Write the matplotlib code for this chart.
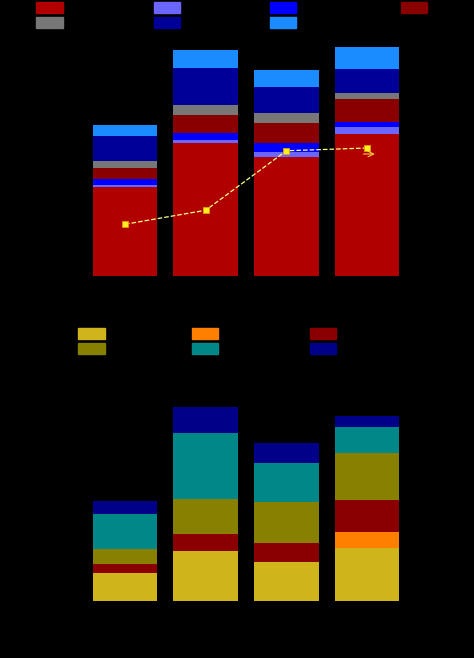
import numpy as np
import matplotlib
matplotlib.use("Agg")
import matplotlib.pyplot as plt
from matplotlib.patches import Patch

years = ["2010", "2020", "2030", "2040"]

# top panel, stacked from bottom
top_labels = ["Coal", "Oil", "Gas", "Atomic", "Hydro", "Other", "Solar PV"]
top_colors = ["#b00000", "#6a66ff", "#0000ff", "#8a0000", "#777777", "#000099", "#1a8cff"]
top_values = [
    [89.0, 132.7, 118.7, 142.0],
    [2.3, 3.3, 5.3, 6.7],
    [5.4, 7.3, 9.3, 5.7],
    [11.0, 17.7, 19.3, 22.3],
    [7.6, 10.0, 10.0, 6.7],
    [24.7, 37.0, 26.7, 23.3],
    [11.0, 18.0, 16.7, 22.0],
]
share = [20.7, 26.3, 50.1, 51.2]

# bottom panel, stacked from bottom
bot_labels = ["Industry", "Transport", "Agriculture", "Residential", "Commercial", "Other"]
bot_colors = ["#d0b41c", "#ff8000", "#8a0000", "#888000", "#008888", "#000088"]
bot_values = [
    [27.7, 49.7, 38.7, 53.0],
    [0.0, 0.0, 0.0, 16.0],
    [9.0, 17.3, 19.7, 32.0],
    [15.0, 35.3, 40.7, 47.3],
    [35.0, 66.0, 38.7, 26.0],
    [13.3, 25.3, 20.0, 10.7],
]

W, H = 474, 658
fig = plt.figure(figsize=(W / 100, H / 100), dpi=100, facecolor="black")
x = np.arange(len(years))

def make_ax(bottom_px, height_px):
    left_px, right_px = 76.6, 415.5
    return fig.add_axes([left_px / W, (H - bottom_px) / H,
                         (right_px - left_px) / W, height_px / H])

def stack(ax, values, colors, labels):
    base = np.zeros(len(years))
    for vals, c, lab in zip(values, colors, labels):
        ax.bar(x, vals, 0.8, bottom=base, color=c, label=lab)
        base += np.array(vals)
    ax.set_xlim(-0.6, 3.6)
    ax.set_xticks(x)
    ax.set_xticklabels(years, color="black", fontsize=9)
    ax.tick_params(colors="black")
    ax.set_facecolor("black")
    for s in ax.spines.values():
        s.set_visible(False)

def row_major(handles, ncol):
    # legend reads across rows; matplotlib fills columns
    nrow = int(np.ceil(len(handles) / ncol))
    out = []
    for c in range(ncol):
        for r in range(nrow):
            i = r * ncol + c
            if i < len(handles):
                out.append(handles[i])
    return out

# top panel
ax1 = make_ax(276, 250)
stack(ax1, top_values, top_colors, top_labels)
ax1.set_ylim(0, 250)
ax1.set_ylabel("Supply (Mtoe)", color="black")
ax2 = ax1.twinx()
ax2.set_ylim(0, 100)
ax2.plot(x, share, ls="--", lw=0.9, color="#ffff88", marker="s", ms=4.5,
         mfc="#ffee22", mec="#e0a000", mew=0.6)
ax2.annotate("", xy=(3.13, 48.8), xytext=(2.92, 48.8),
             arrowprops=dict(arrowstyle="->", color="#ffcc44", lw=0.8))
ax2.tick_params(colors="black")
for s in ax2.spines.values():
    s.set_visible(False)

h1 = [Patch(color=c, label=l) for c, l in zip(top_colors, top_labels)]
fig.legend(handles=row_major(h1, 4), ncol=4, loc="upper left",
           bbox_to_anchor=(0.0557, 1.0126), frameon=False, fontsize=8,
           handlelength=2.35, handleheight=1.15, labelspacing=0.4,
           columnspacing=4.74, handletextpad=0.5, labelcolor="black")

# bottom panel
ax3 = make_ax(601, 200)
stack(ax3, bot_values, bot_colors, bot_labels)
ax3.set_ylim(0, 200)
ax3.set_ylabel("Demand (Mtoe)", color="black")

h2 = [Patch(color=c, label=l) for c, l in zip(bot_colors, bot_labels)]
fig.legend(handles=row_major(h2, 3), ncol=3, loc="upper left",
           bbox_to_anchor=(0.1445, 0.5171), frameon=False, fontsize=8,
           handlelength=2.35, handleheight=1.15, labelspacing=0.4,
           columnspacing=1.79, handletextpad=0.5, labelcolor="black")

fig.savefig("out.png", dpi=100, facecolor="black")
